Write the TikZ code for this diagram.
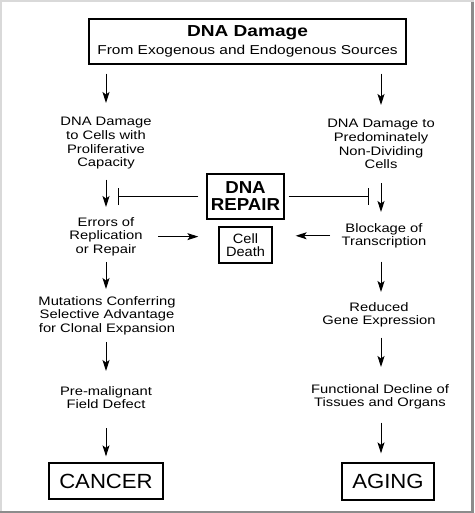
\documentclass[tikz,border=0pt]{standalone}
\usepackage{fontspec}
\setmainfont{Liberation Sans}[FakeStretch=1.08]
\newfontfamily\widesf{Liberation Sans}[FakeStretch=1.2]
\usetikzlibrary{arrows.meta}

\begin{document}
\begin{tikzpicture}
[
x=1pt,y=-1pt,
txt/.style={font=\widesf\fontsize{12.3}{13.7}\selectfont,align=center,inner sep=0pt,anchor=north},
box/.style={draw,line width=1.3pt,inner sep=0pt,align=center},
arr/.style 2 args={-{Stealth[length=11pt,width=7pt,inset=2.5pt]},line width=1pt,shorten <=#1,shorten >=#2},
inhib/.style 2 args={-{Bar[width=17pt]},line width=1pt,shorten <=#1,shorten >=#2},
]
\useasboundingbox (0,0) rectangle (474,513);
%Frame
\fill[black!15] (0,0) rectangle (474,2);
\fill[black!15] (0,0) rectangle (2,513);
\fill[black!45] (471,2) rectangle (474,513);
\fill[black!45] (0,511) rectangle (474,513);

%Place the nodes
\node[box,font=\widesf\fontsize{12.9}{18}\selectfont,minimum width=317pt,minimum height=45pt] (dmg) at (247.5,41.5)
  {{\fontsize{15.9}{18}\selectfont\bfseries DNA Damage}\\From Exogenous and Endogenous Sources};
\node[txt] (prolif) at (106,117) {DNA Damage\\to Cells with\\Proliferative\\Capacity};
\node[txt] (errors) at (106,217) {Errors of\\Replication\\or Repair};
\node[txt] (mut) at (107,296) {Mutations Conferring\\Selective Advantage\\for Clonal Expansion};
\node[txt] (premal) at (106,386) {Pre-malignant\\Field Defect};
\node[box,font=\fontsize{20.5}{24}\selectfont,minimum width=114pt,minimum height=36pt] (cancer) at (106,481) {CANCER};
\node[txt] (nondiv) at (381,119) {DNA Damage to\\Predominately\\Non-Dividing\\Cells};
\node[txt] (block) at (384,223) {Blockage of\\Transcription};
\node[txt] (reduced) at (379,302) {Reduced\\Gene Expression};
\node[txt] (decline) at (380,384) {Functional Decline of\\Tissues and Organs};
\node[box,font=\fontsize{20.5}{24}\selectfont,minimum width=92pt,minimum height=37pt] (aging) at (388,481.5) {AGING};
\node[box,font=\bfseries\fontsize{17.3}{17}\selectfont,minimum width=77pt,minimum height=45pt] (repair) at (245.5,196.5) {DNA\\REPAIR};
\node[box,font=\fontsize{13.5}{12.8}\selectfont,minimum width=53pt,minimum height=36pt] (death) at (245.5,245) {Cell\\Death};

%Left column
\draw[arr={9pt}{14pt}] (dmg.south -| prolif.north) -- (prolif.north);
\draw[arr={10pt}{10pt}] (prolif.south) -- (errors.north);
\draw[arr={5.5pt}{7pt}] (errors.south) -- (errors.south |- mut.north);
\draw[arr={6.5pt}{15pt}] (errors.south |- mut.south) -- (errors.south |- premal.north);
\draw[arr={19pt}{6pt}] (premal.south) -- (premal.south |- cancer.north);
%Right column
\draw[arr={9pt}{14pt}] (dmg.south -| nondiv.north) -- (nondiv.north);
\draw[arr={14pt}{11pt}] (nondiv.south) -- (nondiv.south |- block.north);
\draw[arr={13pt}{10pt}] (block.south -| nondiv.south) -- (nondiv.south |- reduced.north);
\draw[arr={10pt}{17pt}] (reduced.south -| nondiv.south) -- (nondiv.south |- decline.north);
\draw[arr={13pt}{9pt}] (decline.south -| nondiv.south) -- (nondiv.south |- aging.north);
%Repair and cell death
\draw[inhib={8pt}{11.5pt}] (repair.west) -- (repair.west -| errors.north);
\draw[inhib={4pt}{12pt}] (repair.east) -- (repair.east -| nondiv.south);
\draw[arr={15.5pt}{20pt}] (errors.east) -- (errors.east -| death.west);
\draw[arr={11.4pt}{23pt}] (block.west) -- (block.west -| death.east);
\end{tikzpicture}
\end{document}
